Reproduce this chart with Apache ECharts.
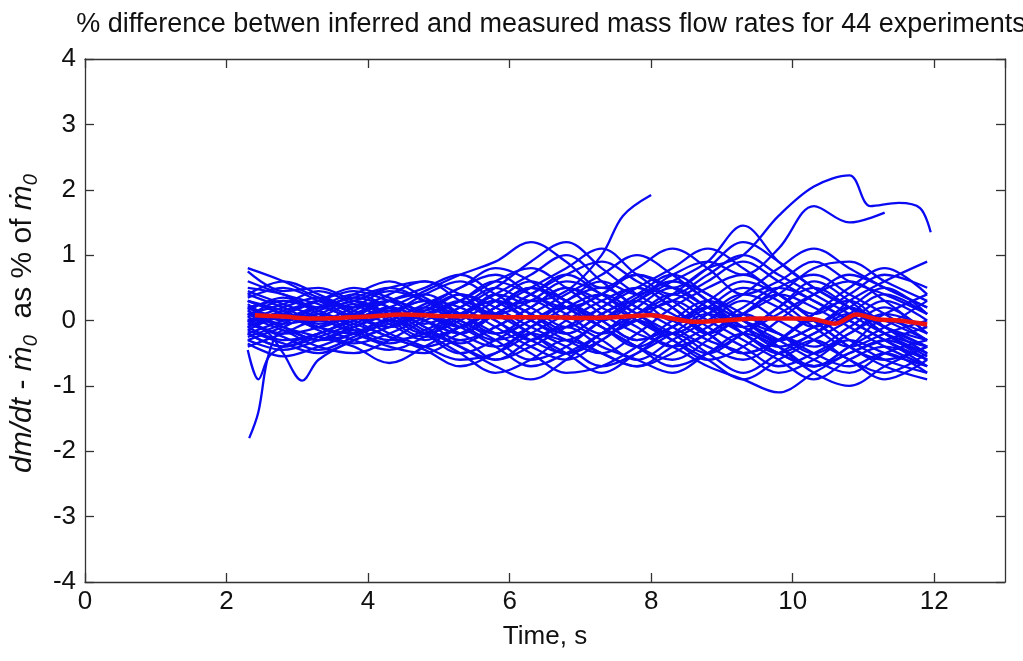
<!DOCTYPE html>
<html>
<head>
<meta charset="utf-8">
<script src="https://cdn.jsdelivr.net/npm/echarts@6/dist/echarts.min.js"></script>
<style>html,body{margin:0;padding:0;background:#fff}#c{width:1023px;height:661px}</style>
</head>
<body>
<div id="c"></div>
<script>
// ---- data ----
const TITLE = '% difference betwen inferred and measured mass flow rates for 44 experiments';
const X_NAME = 'Time, s';
const X_TICKS = [0, 2, 4, 6, 8, 10, 12];
const Y_TICKS = [-4, -3, -2, -1, 0, 1, 2, 3, 4];

// shared time base (s)
const TIME = [2.3, 2.8, 3.3, 3.8, 4.3, 4.8, 5.3, 5.8, 6.3, 6.8, 7.3, 7.8, 8.3, 8.8, 9.3, 9.8, 10.3, 10.8, 11.3, 11.9];

// special time bases
const TIME_A = [2.3, 2.8, 3.3, 3.8, 4.3, 4.8, 5.3, 5.8, 6.3, 6.8, 7.3, 7.6, 8.0];
const TIME_B = [2.3, 2.8, 3.3, 3.8, 4.3, 4.8, 5.3, 5.8, 6.3, 6.8, 7.3, 7.8, 8.3, 8.8, 9.3, 9.8, 10.3, 10.8, 11.1, 11.5, 11.8, 11.95];
const TIME_C = [2.32, 2.45, 2.6, 2.8, 3.3, 3.8, 4.3, 4.8, 5.3, 5.8, 6.3, 6.8, 7.3, 7.8, 8.3, 8.8, 9.3, 9.8, 10.3, 10.8, 11.3, 11.9];
const TIME_D = [2.3, 2.45, 2.6, 2.8, 3.0, 3.3, 3.8, 4.3, 4.8, 5.3, 5.8, 6.3, 6.8, 7.3, 7.8, 8.3, 8.8, 9.3, 9.8, 10.3, 10.8, 11.3, 11.9];
const TIME_E = [2.3, 2.6, 2.8, 3.07, 3.3, 3.8, 4.3, 4.8, 5.3, 5.8, 6.3, 6.8, 7.3, 7.8, 8.3, 8.8, 9.3, 9.8, 10.3, 10.8, 11.3, 11.9];

const E01 = [0.80,0.60,0.35,0.20,0.30,0.10,-0.20,-0.40,-0.10,0.30,0.50,0.20,-0.10,-0.40,-0.60,-0.30,0.10,0.30,-0.10,-0.50];
const E02 = [0.75,0.45,0.50,0.30,0.15,0.40,0.60,0.30,0.00,-0.30,-0.50,-0.20,0.20,0.50,0.70,0.40,0.00,-0.40,-0.60,-0.40];
const E03 = [0.40,0.20,0.00,0.20,0.45,0.30,0.00,-0.30,-0.60,-0.40,0.00,0.35,0.60,0.30,-0.20,-0.50,-0.70,-0.40,0.00,-0.20];
const E04 = [0.30,0.10,-0.10,-0.20,0.00,0.25,0.50,0.80,0.60,0.20,-0.10,-0.40,-0.60,-0.30,0.10,0.50,0.70,0.40,0.10,-0.30];
const E05 = [0.20,0.30,0.15,-0.10,-0.30,-0.20,0.10,0.40,0.70,1.00,0.60,0.20,0.00,-0.30,-0.50,-0.80,-0.60,-0.30,-0.50,-0.70];
const E06 = [0.10,-0.10,-0.30,-0.20,0.05,0.30,0.20,-0.10,-0.40,-0.60,-0.30,0.10,0.40,0.80,1.20,0.90,0.50,0.20,-0.20,-0.50];
const E07 = [0.00,0.20,0.35,0.10,-0.20,-0.40,-0.60,-0.50,-0.20,0.10,0.40,0.70,0.50,0.20,-0.10,-0.30,-0.10,0.20,0.50,0.10];
const E08 = [-0.10,-0.30,-0.20,0.05,0.30,0.40,0.10,-0.20,-0.50,-0.80,-0.70,-0.40,0.00,0.30,0.00,-0.40,-0.80,-1.00,-0.70,-0.40];
const E09 = [-0.20,0.00,0.20,0.40,0.20,-0.10,-0.40,-0.70,-0.90,-0.60,-0.20,0.10,0.30,0.60,0.90,0.60,0.30,0.00,-0.30,-0.60];
const E10 = [-0.30,-0.45,-0.30,-0.10,0.10,0.00,-0.20,0.10,0.40,0.70,0.90,0.60,0.30,-0.10,-0.40,-0.70,-0.50,-0.20,0.10,-0.10];
const E11 = [0.50,0.40,0.20,0.30,0.50,0.60,0.40,0.10,0.30,0.60,0.40,0.00,-0.30,-0.60,-0.40,0.00,0.40,0.70,0.50,0.20];
const E12 = [0.05,-0.15,-0.40,-0.50,-0.30,0.00,0.20,0.50,0.90,1.20,0.80,0.40,0.10,-0.20,-0.50,-0.30,0.10,0.50,0.80,0.40];
const E13 = [-0.40,-0.20,0.00,-0.20,-0.40,-0.50,-0.30,-0.60,-0.40,-0.10,0.20,0.50,0.80,1.10,0.80,0.40,0.00,-0.40,-0.70,-0.90];
const E14 = [0.25,0.00,0.10,0.30,0.10,-0.20,-0.50,-0.30,0.00,0.20,-0.10,-0.40,-0.70,-0.50,-0.20,0.20,0.50,0.20,-0.20,-0.60];
const E15 = [-0.05,0.15,0.30,0.45,0.30,0.10,0.30,0.60,0.80,0.50,0.10,-0.20,-0.40,-0.70,-0.90,-1.10,-0.80,-0.50,-0.30,-0.10];
const E16 = [0.15,0.35,0.10,-0.15,-0.35,-0.15,0.10,0.30,0.10,-0.20,-0.50,-0.70,-0.50,-0.20,0.10,0.40,0.80,0.90,0.60,0.30];
const E17 = [-0.15,-0.35,-0.50,-0.30,-0.10,0.15,0.40,0.20,-0.10,-0.30,0.00,0.30,0.60,0.40,0.00,-0.30,-0.60,-0.80,-0.50,-0.30];
const E18 = [0.35,0.50,0.30,0.05,-0.10,0.10,-0.10,-0.40,-0.70,-0.50,-0.20,0.20,0.50,0.20,-0.10,0.20,0.60,0.30,-0.10,-0.40];
const E19 = [-0.25,-0.05,0.20,0.35,0.50,0.30,0.00,-0.20,0.10,0.40,0.70,1.00,0.70,0.30,0.00,-0.20,-0.40,-0.10,0.20,-0.20];
const E20 = [0.45,0.25,0.05,-0.15,-0.05,0.20,0.50,0.70,0.40,0.10,-0.20,0.00,0.30,0.00,-0.30,-0.60,-0.90,-0.60,-0.40,-0.60];
const E21 = [-0.35,-0.55,-0.40,-0.20,0.00,-0.20,-0.50,-0.80,-0.60,-0.30,-0.50,-0.70,-0.40,-0.10,0.20,0.50,0.30,0.00,-0.30,-0.70];
const E22 = [0.10,0.25,0.45,0.25,0.00,-0.25,-0.10,0.20,0.50,0.80,1.10,0.70,0.40,0.70,1.00,0.70,0.40,0.10,-0.20,-0.40];
const E23 = [0.00,-0.20,-0.10,0.15,0.40,0.60,0.30,0.00,-0.30,0.00,0.30,0.50,0.20,-0.20,-0.50,-0.30,0.00,-0.30,-0.60,-0.80];
const E24 = [-0.10,0.10,-0.15,-0.35,-0.20,0.05,0.30,0.00,-0.30,-0.50,-0.30,0.00,-0.30,-0.60,-0.90,-0.60,-0.30,0.00,0.30,0.00];
const E25 = [0.60,0.40,0.25,0.05,0.20,0.45,0.70,0.90,1.20,0.90,0.50,0.80,1.10,0.80,0.40,0.60,0.90,0.60,0.40,0.10];
const E26 = [0.20,0.05,0.20,0.00,-0.25,-0.40,-0.20,0.10,0.30,0.00,-0.30,-0.60,-0.30,0.00,0.30,0.00,-0.30,-0.60,-0.90,-0.60];
const E27 = [-0.20,-0.40,-0.25,-0.05,0.15,-0.10,-0.35,-0.10,0.20,0.50,0.30,0.00,-0.20,0.10,0.40,0.80,1.10,0.80,0.50,0.20];
const E28 = [0.30,0.15,-0.05,0.10,0.30,0.50,0.70,0.40,0.10,-0.20,0.10,0.40,0.70,0.40,0.10,-0.20,-0.50,-0.20,0.10,0.40];
const E29 = [-0.05,-0.25,-0.45,-0.25,0.00,0.20,-0.05,-0.30,-0.10,0.20,0.40,0.10,-0.20,-0.50,-0.20,0.10,0.40,0.60,0.30,-0.20];
const E30 = [0.15,-0.05,0.05,0.25,0.05,-0.20,0.00,0.30,0.60,0.30,0.00,-0.30,-0.10,0.20,0.50,0.30,-0.10,-0.40,-0.20,0.00];
const E31 = [-0.30,-0.10,0.10,-0.05,-0.25,-0.45,-0.70,-0.50,-0.20,-0.40,-0.70,-0.50,-0.20,0.10,-0.20,-0.50,-0.30,-0.60,-0.80,-0.50];
const E32 = [0.05,0.30,0.20,0.40,0.60,0.35,0.10,0.40,0.20,-0.10,0.20,0.50,0.20,-0.20,0.10,0.40,0.20,-0.10,-0.40,-0.70];
const E33 = [0.40,0.60,0.40,0.15,-0.05,-0.30,-0.10,0.10,-0.20,-0.50,-0.20,0.10,0.40,0.10,-0.20,-0.50,-0.70,-0.40,-0.10,0.30];
const E34 = [-0.15,0.05,-0.10,-0.30,-0.45,-0.25,0.05,0.30,0.00,-0.20,0.10,0.30,0.00,0.30,0.60,0.40,0.10,0.40,0.70,0.50];
const E35 = [0.00,0.10,0.30,0.50,0.35,0.15,0.40,0.10,-0.20,-0.50,-0.80,-0.50,-0.20,-0.50,-0.80,-0.50,-0.20,0.10,-0.10,-0.40];
const E36 = [0.20,0.00,0.15,0.35,0.20,-0.05,0.20,0.50,0.30,0.45,1.00,1.60,1.92];                       // TIME_A
const E37 = [-0.10,0.10,0.30,0.10,-0.10,0.10,0.30,0.60,0.40,0.20,0.40,0.70,0.50,0.80,1.00,1.60,2.05,2.22,1.75,1.80,1.72,1.35]; // TIME_B
const E38 = [0.10,-0.10,-0.30,-0.10,0.10,0.30,0.10,-0.20,0.00,0.30,0.60,0.40,0.70,0.90,0.70,1.10,1.75,1.50,1.65,null];
const E39 = [0.30,0.10,-0.10,0.10,0.30,0.10,-0.10,0.20,0.50,0.30,0.00,0.30,0.60,0.90,1.45,0.90,0.50,0.20,0.00,-0.30];
const E40 = [-0.20,-0.40,-0.20,0.00,0.20,0.00,-0.20,0.10,0.40,0.70,0.40,0.10,-0.20,0.10,0.40,0.20,-0.10,0.30,0.60,0.90];
const E41 = [-1.80,-1.40,-0.50,-0.15,-0.30,-0.10,0.10,-0.15,-0.40,-0.60,-0.30,-0.10,-0.40,-0.60,-0.80,-0.50,-0.20,-0.40,-0.70,-0.50,-0.30,-0.55]; // TIME_C
const E42 = [-0.45,-0.90,-0.55,-0.40,-0.30,-0.20,0.00,0.20,0.00,-0.30,-0.10,0.20,0.50,0.20,-0.10,-0.40,-0.20,0.10,-0.20,-0.50,-0.70,-0.50,-0.80]; // TIME_D
const E43 = [0.00,-0.20,-0.50,-0.92,-0.60,-0.30,-0.10,0.10,-0.10,0.20,0.50,0.30,0.00,-0.30,-0.10,0.20,-0.10,-0.40,-0.20,0.10,0.40,0.10]; // TIME_E
const E44 = [0.10,-0.10,-0.25,-0.40,-0.65,-0.40,-0.10,0.20,0.50,0.20,-0.10,-0.40,-0.10,0.20,0.00,-0.30,-0.10,0.20,-0.10,-0.30];

const EXPERIMENTS = [
  [TIME, E01],[TIME, E02],[TIME, E03],[TIME, E04],[TIME, E05],[TIME, E06],[TIME, E07],[TIME, E08],
  [TIME, E09],[TIME, E10],[TIME, E11],[TIME, E12],[TIME, E13],[TIME, E14],[TIME, E15],[TIME, E16],
  [TIME, E17],[TIME, E18],[TIME, E19],[TIME, E20],[TIME, E21],[TIME, E22],[TIME, E23],[TIME, E24],
  [TIME, E25],[TIME, E26],[TIME, E27],[TIME, E28],[TIME, E29],[TIME, E30],[TIME, E31],[TIME, E32],
  [TIME, E33],[TIME, E34],[TIME, E35],[TIME_A, E36],[TIME_B, E37],[TIME, E38],[TIME, E39],[TIME, E40],
  [TIME_C, E41],[TIME_D, E42],[TIME_E, E43],[TIME, E44]
];

// mean line (red)
const MEAN_T = [2.4,2.8,3.2,3.6,4.0,4.5,5.0,5.5,6.0,6.5,7.0,7.5,8.0,8.3,8.6,9.0,9.5,10.0,10.3,10.6,10.9,11.2,11.5,11.9];
const MEAN_V = [0.08,0.06,0.03,0.04,0.06,0.09,0.07,0.06,0.05,0.05,0.04,0.05,0.08,0.03,-0.02,0.00,0.03,0.03,0.02,-0.05,0.09,0.02,0.00,-0.06];

// ---- chart ----
const FONT = 'Liberation Sans, Arial, Helvetica, DejaVu Sans, sans-serif';
const FS = 26;
const FSY = 30;
const zip = (t, v) => t.map((x, i) => [x, v[i] == null ? null : v[i]]);

const series = EXPERIMENTS.map(([t, v], i) => ({
  name: 'exp' + (i + 1),
  type: 'line',
  data: zip(t, v),
  showSymbol: false,
  smooth: 0.35,
  connectNulls: false,
  lineStyle: { color: '#0a0af2', width: 2.3 },
  z: 2,
  silent: true
}));
series.push({
  name: 'mean',
  type: 'line',
  data: zip(MEAN_T, MEAN_V),
  showSymbol: false,
  smooth: 0.3,
  lineStyle: { color: '#ee1111', width: 4.5 },
  z: 5,
  silent: true
});

const axisCommon = {
  axisLine: { show: true, onZero: false, lineStyle: { color: '#333', width: 1.3 } },
  axisTick: { show: true, inside: true, length: 9, lineStyle: { color: '#333', width: 1.3 } },
  splitLine: { show: false }
};

const chart = echarts.init(document.getElementById('c'), null, { renderer: 'canvas' });
chart.setOption({
  animation: false,
  backgroundColor: '#ffffff',
  title: {
    text: TITLE,
    left: 546, textAlign: 'center', top: 6,
    textStyle: { fontFamily: FONT, fontSize: 27, fontWeight: 'normal', color: '#111' }
  },
  grid: { left: 83, right: 18, top: 59, bottom: 79, containLabel: false },
  xAxis: [
    Object.assign({}, axisCommon, {
      type: 'value', min: 0, max: 13, interval: 2, position: 'bottom',
      name: X_NAME, nameLocation: 'middle', nameGap: 42,
      nameTextStyle: { fontFamily: FONT, fontSize: FS, color: '#111' },
      axisLabel: {
        fontFamily: FONT, fontSize: FS, color: '#111', margin: 7, showMaxLabel: false,
        formatter: v => X_TICKS.includes(v) ? String(v) : ''
      }
    }),
    Object.assign({}, axisCommon, {
      type: 'value', min: 0, max: 13, interval: 2, position: 'top',
      axisLabel: { show: false }
    })
  ],
  yAxis: [
    Object.assign({}, axisCommon, {
      type: 'value', min: -4, max: 4, interval: 1, position: 'left',
      name: '{i|dm/dt} {n|-} {i|ṁ}{s|0}{n|  as % of }{i|ṁ}{s|0}',
      nameLocation: 'middle', nameGap: 44, nameRotate: 90,
      nameTextStyle: {
        fontFamily: FONT, fontSize: FSY, color: '#111',
        padding: [0, 6, 0, 0],
        rich: {
          i: { fontFamily: FONT, fontSize: FSY, fontStyle: 'italic', color: '#111', lineHeight: 36 },
          n: { fontFamily: FONT, fontSize: FSY, color: '#111', lineHeight: 36 },
          s: { fontFamily: FONT, fontSize: 20, fontStyle: 'italic', color: '#111', lineHeight: 18, verticalAlign: 'bottom' }
        }
      },
      axisLabel: {
        fontFamily: FONT, fontSize: FS, color: '#111', margin: 9,
        formatter: v => Y_TICKS.includes(v) ? String(v) : ''
      }
    }),
    Object.assign({}, axisCommon, {
      type: 'value', min: -4, max: 4, interval: 1, position: 'right',
      axisLabel: { show: false }
    })
  ],
  series: series
});
</script>
</body>
</html>
